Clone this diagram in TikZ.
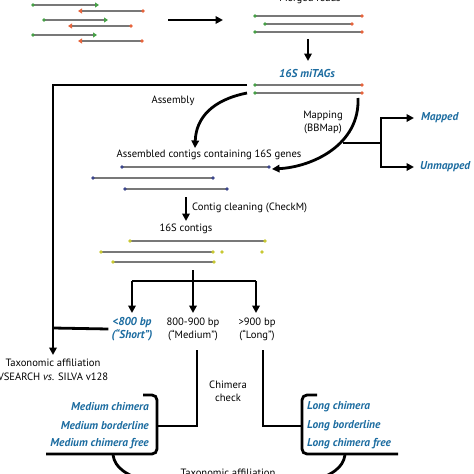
\documentclass[tikz,border=0pt]{standalone}
\usepackage{fontspec}
\setmainfont{PT Sans}
\usetikzlibrary{arrows.meta}
\definecolor{tblue}{RGB}{28,108,160}
\definecolor{rgreen}{RGB}{70,160,70}
\definecolor{rred}{RGB}{230,100,60}
\definecolor{rgray}{RGB}{120,120,120}
\definecolor{cnavy}{RGB}{60,70,140}
\definecolor{cyel}{RGB}{200,200,50}
\newcommand\fwdread[3]{%
  \draw[rgray,line width=1.6pt,-{Triangle[color=rgreen,length=4pt,width=5pt]}] (#1,#3) -- (#2,#3);
  \fill[rgreen] (#1,#3) circle (1.8pt);}
\newcommand\revread[3]{%
  \draw[rgray,line width=1.6pt,-{Triangle[color=rred,length=4pt,width=5pt]}] (#2,#3) -- (#1,#3);
  \fill[rred] (#2,#3) circle (1.8pt);}
\newcommand\mergedread[3]{%
  \draw[rgray,line width=1.6pt] (#1,#3) -- (#2,#3);
  \fill[rgreen] (#1,#3) circle (1.8pt);
  \fill[rred] (#2,#3) circle (1.8pt);}
\newcommand\contig[4]{%
  \draw[rgray,line width=1.3pt] (#1,#3) -- (#2,#3);
  \fill[#4] (#1,#3) circle (1.8pt);
  \fill[#4] (#2,#3) circle (1.8pt);}
\begin{document}
\begin{tikzpicture}[x=1pt,y=-1pt,
  bigarrow/.style={line width=2.8pt,-{Triangle[length=7.5pt,width=7.5pt]}},
  bigline/.style={line width=2.8pt},
  lbl/.style={font=\fontsize{10.6}{13}\selectfont,inner sep=0pt,align=center},
  blbl/.style={font=\fontsize{11.4}{13}\selectfont\bfseries\itshape,text=tblue,inner sep=0pt,align=center}]
\useasboundingbox (0,0) rectangle (474,474);
\clip (0,0) rectangle (474,474);
% raw reads
\fwdread{33}{99}{5}
\revread{78}{143}{11}
\fwdread{44}{108}{20}
\revread{68}{131}{26}
\fwdread{33}{97}{35}
\revread{78}{142}{41}
\coordinate (rawR) at (168,20);
\coordinate (mergL) at (223,20);
\draw[bigarrow] (rawR) -- (mergL);
% merged reads
\node[lbl] (merged) at (310,-1.5) {Merged reads};
\mergedread{255}{362}{16}
\mergedread{265}{352}{24}
\mergedread{255}{362}{32}
\coordinate (mergB) at (308,39);
\coordinate (mitT) at (308,61);
\draw[bigarrow] (mergB) -- (mitT);
\node[blbl] (mitags) at (307,74) {16S miTAGs};
\mergedread{255}{362}{85}
\mergedread{255}{362}{93}
% left long path
\coordinate (mitL) at (247,85);
\coordinate (cornerTL) at (53,85);
\coordinate (taxT) at (53,355);
\draw[bigline,-{Triangle[length=7.5pt,width=7.5pt]}] (mitL) -- (cornerTL) -- (taxT);
% assembly
\coordinate (asmS) at (247,93);
\coordinate (asmE) at (195,148);
\draw[bigarrow] (asmS) .. controls (212,100) and (196,118) .. (asmE);
\node[lbl] (assembly) at (173,101) {Assembly};
% mapping
\coordinate (mapS) at (358,98);
\coordinate (mapE) at (272,169);
\draw[bigarrow] (mapS) .. controls (360,145) and (312,167) .. (mapE);
\node[lbl] (mapping) at (323,122) {Mapping\\(BBMap)};
\coordinate (mapB) at (343,143);
\coordinate (mapJ) at (381,143);
\coordinate (mapJt) at (381,118);
\coordinate (mapJb) at (381,167);
\node[blbl,anchor=west] (mappedn) at (421,118) {Mapped};
\node[blbl,anchor=west] (unmappedn) at (420,167) {Unmapped};
\draw[bigline] (mapB) -- (mapJ);
\draw[bigarrow] (mapJ) -- (mapJt) -- ([xshift=-7pt]mappedn.west);
\draw[bigarrow] (mapJ) -- (mapJb) -- ([xshift=-6pt]unmappedn.west);
% assembled contigs
\node[lbl] (assembled) at (209,155) {Assembled contigs containing 16S genes};
\contig{122}{269}{167}{cnavy}
\contig{93}{213}{178}{cnavy}
\contig{125}{227}{189}{cnavy}
\coordinate (clnT) at (186,197);
\coordinate (clnB) at (186,221);
\draw[bigarrow] (clnT) -- (clnB);
\node[lbl,anchor=west] (cleaning) at (192,208) {Contig cleaning (CheckM)};
\node[lbl] (contigs) at (186,229) {16S contigs};
\contig{130}{265}{241}{cyel}
\contig{101}{213}{252}{cyel}
\fill[cyel] (222,252) circle (1.8pt);
\fill[cyel] (262,252) circle (1.8pt);
\contig{113}{214}{262}{cyel}
% split
\coordinate (splT) at (193,270);
\coordinate (splM) at (193,281);
\coordinate (splL) at (132,281);
\coordinate (splR) at (256,281);
\node[blbl] (short) at (132,329) {<800 bp\\(“Short”)};
\node[lbl] (medium) at (193,329) {800-900 bp\\(“Medium”)};
\node[lbl] (long) at (257,329) {>900 bp\\(“Long”)};
\draw[bigline] (splT) -- (splM);
\draw[bigline] (splL) -- (splR);
\draw[bigarrow] (splL) -- (132,313);
\draw[bigarrow] (splM) -- (193,313);
\draw[bigarrow] (splR) -- (256,313);
\coordinate (shortJ) at (53,328);
\draw[bigline] (short.west) ++(-3pt,0) -- (shortJ);
\node[lbl,font=\fontsize{10.6}{14}\selectfont] (taxleft) at (53,370) {Taxonomic affiliation\\VSEARCH \textit{vs.} SILVA v128};
% chimera check
\node[lbl] (chimera) at (228,391) {Chimera\\check};
\coordinate (medB) at (197,350);
\coordinate (medJ) at (197,426);
\coordinate (medBr) at (157,426);
\draw[bigline] (medB) -- (medJ) -- (medBr);
\draw[bigline,rounded corners=5pt] (143,395) -- (157,395) -- (157,454) -- (46,454);
\coordinate (lngB) at (263,350);
\coordinate (lngJ) at (263,426);
\coordinate (lngBr) at (302,426);
\draw[bigline] (lngB) -- (lngJ) -- (lngBr);
\draw[bigline,rounded corners=5pt] (317,395) -- (302,395) -- (302,454) -- (398,454);
\node[blbl,anchor=east] (mc) at (149,407) {Medium chimera};
\node[blbl,anchor=east] (mb) at (149,426) {Medium borderline};
\node[blbl,anchor=east] (mf) at (149,444) {Medium chimera free};
\node[blbl,anchor=west] (lc) at (307,407) {Long chimera};
\node[blbl,anchor=west] (lb) at (307,426) {Long borderline};
\node[blbl,anchor=west] (lf) at (307,444) {Long chimera free};
% bottom
\node[lbl] (taxbot) at (228,472.5) {Taxonomic affiliation};
\coordinate (bl) at (113,455);
\coordinate (br) at (345,455);
\draw[bigline] (bl) .. controls (115,468) and (126,475) .. (148,482);
\draw[bigline] (br) .. controls (343,468) and (332,475) .. (310,482);
\end{tikzpicture}
\end{document}
